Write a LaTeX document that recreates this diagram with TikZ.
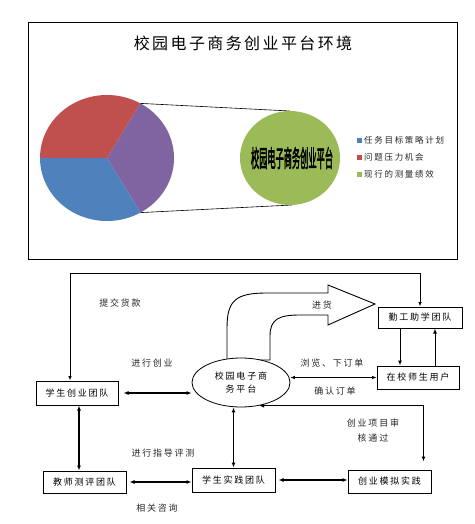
\documentclass[tikz,border=0pt]{standalone}
\usepackage{fontspec}
\newfontfamily\cjk[LetterSpace=20]{Noto Sans CJK SC}
\newfontfamily\cjktitle[LetterSpace=15]{Noto Sans CJK SC}
\newfontfamily\cjkbold[FakeBold=3]{Noto Sans CJK SC}
\usetikzlibrary{arrows.meta,calc,shapes.geometric}
\definecolor{pieblue}{HTML}{4F81BD}
\definecolor{piered}{HTML}{C0504D}
\definecolor{piepurple}{HTML}{8064A2}
\definecolor{piegreen}{HTML}{9BBB59}
\tikzset{
	box/.style={draw, line width=1pt, fill=white, minimum width=83pt, minimum height=23pt, inner sep=0pt, font=\cjk\fontsize{9}{9}\selectfont},
	lbl/.style={font=\cjk\fontsize{9}{9}\selectfont, text=black!85},
	dbl/.style={{Latex[length=5pt,width=4pt]}-{Latex[length=5pt,width=4pt]}, line width=1.4pt},
	dblthin/.style={{Latex[length=4.5pt,width=3.5pt]}-{Latex[length=4.5pt,width=3.5pt]}, line width=0.6pt},
	arr/.style={-{Latex[length=5pt,width=4pt]}, line width=1pt}
}

\begin{document}
\begin{tikzpicture}[x=1pt, y=-1pt]
			%%%%% START %%%%%
			\useasboundingbox (0,0) rectangle (474,524);
			
			% chart frame and title
			\draw[line width=1pt] (28,23) rectangle (457,259);
			\node (title) at (243,43) {\cjktitle\fontsize{16}{16}\selectfont 校园电子商务创业平台环境};
			
			% pie
			\fill[piered] (107,158) -- ++(-180:67 and 63) arc[start angle=-180, end angle=-60, x radius=67, y radius=63] -- cycle;
			\fill[piepurple] (107,158) -- ++(-60:67 and 63) arc[start angle=-60, end angle=60, x radius=67, y radius=63] -- cycle;
			\fill[pieblue] (107,158) -- ++(60:67 and 63) arc[start angle=60, end angle=180, x radius=67, y radius=63] -- cycle;
			
			\draw[line width=0.6pt] (140.5,103.4) -- (290,111);
			\draw[line width=0.6pt] (140.5,212.6) -- (292,205);
			\fill[piegreen] (290,158) ellipse [x radius=50, y radius=47];
			\node (inner) at (292,158) {\scalebox{1}[2.9]{\cjkbold\fontsize{8.2}{8.2}\selectfont 校园电子商务创业平台}};
			
			% legend
			\fill[pieblue] (357,137.5) rectangle ++(5,5);
			\fill[piered] (357,154.5) rectangle ++(5,5);
			\fill[piegreen] (357,172) rectangle ++(5,5);
			\node[lbl, anchor=west, inner sep=0pt, font=\cjk\fontsize{8.5}{8.5}\selectfont] (l1) at (364,140) {任务目标策略计划};
			\node[lbl, anchor=west, inner sep=0pt, font=\cjk\fontsize{8.5}{8.5}\selectfont] (l2) at (364,157) {问题压力机会};
			\node[lbl, anchor=west, inner sep=0pt, font=\cjk\fontsize{8.5}{8.5}\selectfont] (l3) at (364,174.5) {现行的测量绩效};
			
			% big arrow
			\draw[line width=0.9pt, fill=white] (227,360) -- (227,328) .. controls (227,300) and (236,293) .. (267,293) -- (328,293) -- (328,285) -- (375,304) -- (328,325) -- (328,315) -- (300,315) .. controls (279,315) and (270,319) .. (270,336) -- (270,360) -- cycle;
			\node[lbl] (jh) at (322,305) {进货};
			
			% boxes
			\node[box, minimum width=84pt, minimum height=21pt] (qg) at (420,317.5) {勤工助学团队};
			\node[box, minimum width=82pt] (zx) at (418,377.5) {在校师生用户};
			\node[draw, ellipse, line width=0.8pt, fill=white, minimum width=98pt, minimum height=49pt, inner sep=0pt, align=center, font=\cjk\fontsize{9}{13}\selectfont] (pt) at (241,382.5) {校园电子商\\务平台};
			\node[box, minimum width=82pt, minimum height=24pt] (cy) at (77,393) {学生创业团队};
			\node[box, minimum height=22pt] (jp) at (84.5,482) {教师测评团队};
			\node[box, minimum height=24pt] (sj) at (233.5,480) {学生实践团队};
			\node[box] (mn) at (389.5,481.5) {创业模拟实践};
			
			% connectors
			\coordinate (top) at (0,273);
			\draw[dblthin, line width=0.8pt] ($(cy.north)+(-7,0)$) |- (top -| qg.north) -- (qg.north);
			\draw[arr] ($(qg.south)+(-20,0)$) -- ($(zx.north)+(-18,0)$);
			\draw[arr] ($(zx.north)+(17,0)$) -- ($(qg.south)+(15,0)$);
			\draw[dbl, shorten <=5pt] (cy.east) -- (cy.east -| pt.west);
			\draw[dblthin] (zx.west -| pt.east) -- (zx.west);
			\draw[dbl] (pt.-52) -| ($(mn.north)+(34,-8)$);
			\draw[dbl] ($(cy.south)+(2,0)$) -- ($(jp.north)+(-5.5,0)$);
			\draw[dbl, xshift=-3pt] (pt.south -| sj.north) -- (sj.north);
			\draw[dbl, shorten <=3pt] (jp.east) -- (jp.east -| sj.west);
			\draw[dbl, shorten <=3pt] (sj.east) -- (sj.east -| mn.west);
			
			% labels
			\node[lbl] (tj) at (120,303) {提交货款};
			\node[lbl] (jx) at (152,363) {进行创业};
			\node[lbl] (ll) at (332,363) {浏览、下订单};
			\node[lbl] (qr) at (335,391) {确认订单};
			\node[lbl, align=center, font=\cjk\fontsize{9}{15}\selectfont] (sh) at (373,430.5) {创业项目审\\核通过};
			\node[lbl] (zd) at (163,453) {进行指导评测};
			\node[lbl] (zx2) at (157,508) {相关咨询};
			
			%%%%% END %%%%%
\end{tikzpicture}
\end{document}
